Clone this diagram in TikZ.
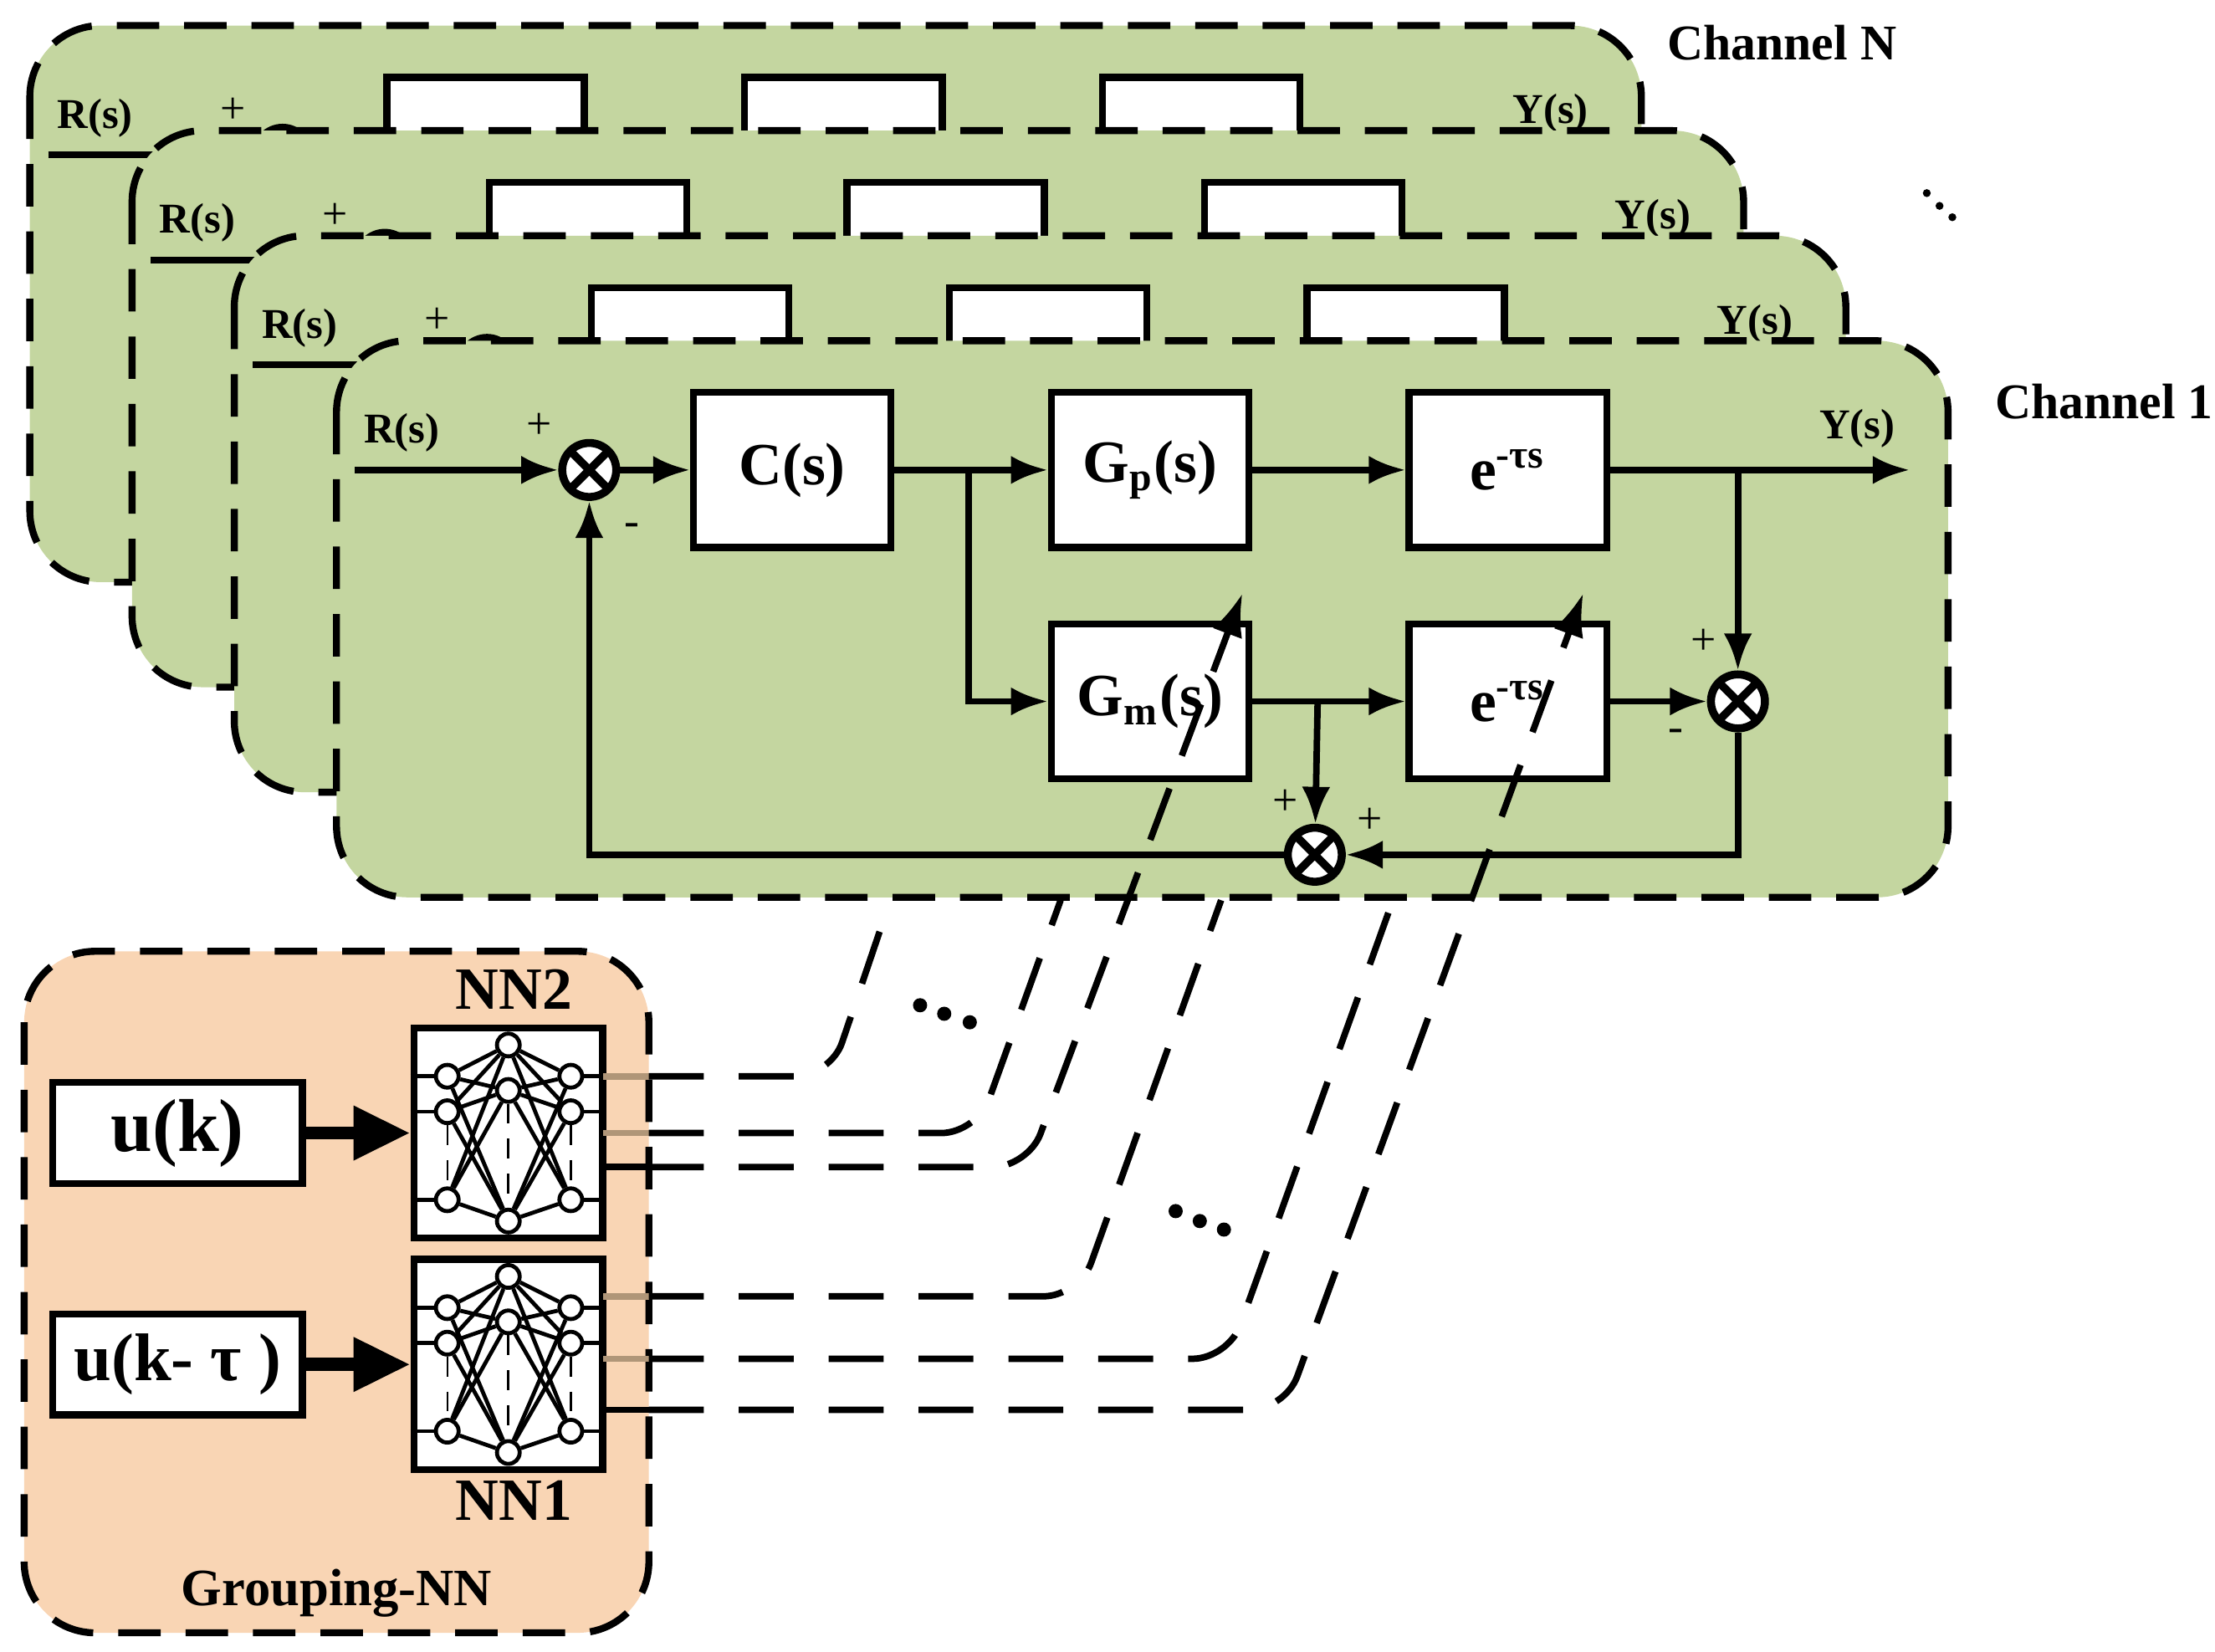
\documentclass[tikz,border=0pt]{standalone}
\usepackage{fontspec}
\setmainfont{Liberation Serif}
\usetikzlibrary{arrows.meta,positioning}
\definecolor{chgreen}{RGB}{196,214,160}
\definecolor{nnpeach}{RGB}{249,213,180}
\definecolor{nnbrown}{RGB}{176,150,120}
\tikzset{
  panel/.style={draw,line width=1.4pt,dash pattern=on 8.5pt off 5pt,rounded corners=0.5cm},
  blk/.style={draw,fill=white,line width=1.4pt,minimum width=1.39cm,minimum height=1.09cm,
    inner sep=0pt,font=\bfseries\fontsize{12}{12}\selectfont},
  sum/.style={draw,fill=white,circle,line width=1.6pt,minimum size=0.38cm,inner sep=0pt,
    path picture={\draw[line width=1.6pt]
      (path picture bounding box.north west) -- (path picture bounding box.south east)
      (path picture bounding box.north east) -- (path picture bounding box.south west);}},
  sig/.style={line width=1.3pt,-{Latex[length=2.6mm,width=2mm]}},
  tune/.style={line width=1.3pt,dash pattern=on 11pt off 7pt,rounded corners=0.25cm},
  lbl/.style={font=\bfseries\fontsize{8.5}{8.5}\selectfont},
  sgn/.style={font=\fontsize{9}{9}\selectfont},
  neur/.style={draw,fill=white,circle,line width=0.8pt,minimum size=0.16cm,inner sep=0pt},
}
% text only on the front channel, the others are covered
\newcommand\fronttext[1]{\ifnum\k=0 #1\fi}
\begin{document}
\begin{tikzpicture}[x=0.01cm,y=-0.01cm]
  \useasboundingbox (0,0) rectangle (1560,1163.5);

  % channels, back to front
  \foreach \k in {3,2,1,0}{
    \begin{scope}[shift={(-72*\k,-74*\k)}]
      \draw[panel,fill=chgreen] (237,240) rectangle (1372,632);
      \node[lbl] (rin\k) at (283,305) {R(s)};
      \node[lbl] (yout\k) at (1308,302) {Y(s)};
      \coordinate (in\k) at (250,331);
      \coordinate (out\k) at (1345,331);
      \node[sum] (s1\k) at (415,331) {};
      \node[blk] (c\k) at (558,331) {\fronttext{C(s)}};
      \node[blk] (gp\k) at (810,331) {\fronttext{G\textsubscript{p}(s)}};
      \node[blk] (d1\k) at (1062,331) {\fronttext{e\textsuperscript{-τs}}};
      \node[blk] (gm\k) at (810,494) {\fronttext{G\textsubscript{m}(s)}};
      \node[blk] (d2\k) at (1062,494) {\fronttext{e\textsuperscript{-τs}}};
      \node[sum] (s2\k) at (1224,494) {};
      \node[sum] (s3\k) at (926,602) {};
      \coordinate (b1\k) at (682,331);
      \coordinate (b2\k) at (928,494);
      \coordinate (b3\k) at (1224,331);
      \draw[sig] (in\k) -- (s1\k);
      \draw[sig] (s1\k) -- (c\k);
      \draw[sig] (c\k) -- (gp\k);
      \draw[sig] (gp\k) -- (d1\k);
      \draw[sig] (d1\k) -- (out\k);
      \draw[sig] (b1\k) |- (gm\k);
      \draw[sig] (gm\k) -- (d2\k);
      \draw[sig] (b2\k) -- (s3\k);
      \draw[sig] (b3\k) -- (s2\k);
      \draw[sig] (d2\k) -- (s2\k);
      \draw[sig] (s2\k) |- (s3\k);
      \draw[sig] (s3\k) -| (s1\k);
      \node[sgn] at (380,300) {+};
      \node[sgn] at (445,373) {\fronttext{-}};
      \node[sgn] at (1200,452) {\fronttext{+}};
      \node[sgn] at (1180,518) {\fronttext{-}};
      \node[sgn] at (905,565) {\fronttext{+}};
      \node[sgn] at (965,578) {\fronttext{+}};
    \end{scope}
  }
  \node[font=\bfseries\fontsize{10}{10}\selectfont] (chN) at (1255,30) {Channel N};
  \node[font=\bfseries\fontsize{10}{10}\selectfont] (ch1) at (1482,283) {Channel 1};
  \foreach \p in {(1357,136),(1366,145),(1375,153)} \fill \p circle (2.8);

  % grouping network
  \draw[panel,fill=nnpeach] (17,670) rectangle (457,1150);
  \node[font=\bfseries\fontsize{10.5}{10.5}\selectfont] (grp) at (237,1122) {Grouping-NN};
  \node[blk,minimum width=1.76cm,minimum height=0.71cm,font=\bfseries\fontsize{15}{15}\selectfont] (uk) at (125,798) {u(k)};
  \node[blk,minimum width=1.76cm,minimum height=0.71cm,font=\bfseries\fontsize{13.5}{13.5}\selectfont] (ukt) at (125,961) {u(k- τ )};
  \node[draw,fill=white,line width=1.4pt,minimum width=1.33cm,minimum height=1.48cm] (nn2) at (358,798) {};
  \node[draw,fill=white,line width=1.4pt,minimum width=1.33cm,minimum height=1.48cm] (nn1) at (358,961) {};
  \node[font=\bfseries\fontsize{12}{12}\selectfont] (nn2l) at (362,697) {NN2};
  \node[font=\bfseries\fontsize{12}{12}\selectfont] (nn1l) at (362,1057) {NN1};
  \draw[line width=2.6pt,-{Triangle[length=4mm,width=3.6mm]}] (uk) -- (nn2);
  \draw[line width=2.6pt,-{Triangle[length=4mm,width=3.6mm]}] (ukt) -- (nn1);
  \foreach \nn/\cy in {nn2/798,nn1/961}{
    \node[neur] (\nn-l1) at (315,{\cy-40}) {};
    \node[neur] (\nn-l2) at (315,{\cy-15}) {};
    \node[neur] (\nn-l3) at (315,{\cy+47}) {};
    \node[neur] (\nn-m1) at (358,{\cy-62}) {};
    \node[neur] (\nn-m2) at (358,{\cy-30}) {};
    \node[neur] (\nn-m3) at (358,{\cy+62}) {};
    \node[neur] (\nn-r1) at (402,{\cy-40}) {};
    \node[neur] (\nn-r2) at (402,{\cy-15}) {};
    \node[neur] (\nn-r3) at (402,{\cy+47}) {};
    \foreach \a in {1,2,3}{
      \foreach \b in {1,2,3}{
        \draw[line width=0.8pt] (\nn-l\a) -- (\nn-m\b);
        \draw[line width=0.8pt] (\nn-m\b) -- (\nn-r\a);
      }
      \draw[line width=0.8pt] (\nn.west |- \nn-l\a) -- (\nn-l\a);
      \draw[line width=0.8pt] (\nn-r\a) -- (\nn.east |- \nn-r\a);
    }
    \foreach \c in {l,m,r}
      \draw[line width=0.4pt,dash pattern=on 4pt off 3pt] (\nn-\c2) -- (\nn-\c3);
  }

  % tuning links
  \coordinate (o1) at (425,758);
  \coordinate (o2) at (425,798);
  \coordinate (o3) at (425,822);
  \coordinate (o4) at (425,913);
  \coordinate (o5) at (425,957);
  \coordinate (o6) at (425,993);
  \foreach \o in {o1,o2,o4,o5}
    \draw[line width=1.3pt,nnbrown] (\o) -- ++(32,0);
  \foreach \o in {o3,o6}
    \draw[line width=1.3pt] (\o) -- ++(32,0);
  \draw[tune] (457,758) -- (585,758) -- (627,634);
  \draw[tune] (457,798) -- (688,798) -- (747,634);
  \draw[tune,-{Latex[length=3mm,width=2.2mm]}] (457,822) -- (724,822) -- (875,418);
  \draw[tune] (457,913) -- (760,913) -- (860,634);
  \draw[tune] (457,957) -- (865,957) -- (981,634);
  \draw[tune,-{Latex[length=3mm,width=2.2mm]}] (457,993) -- (905,993) -- (1115,418);
  \foreach \p in {(648,708),(665,714),(683,720),(828,853),(845,860),(862,866)}
    \fill \p circle (5);
\end{tikzpicture}
\end{document}
